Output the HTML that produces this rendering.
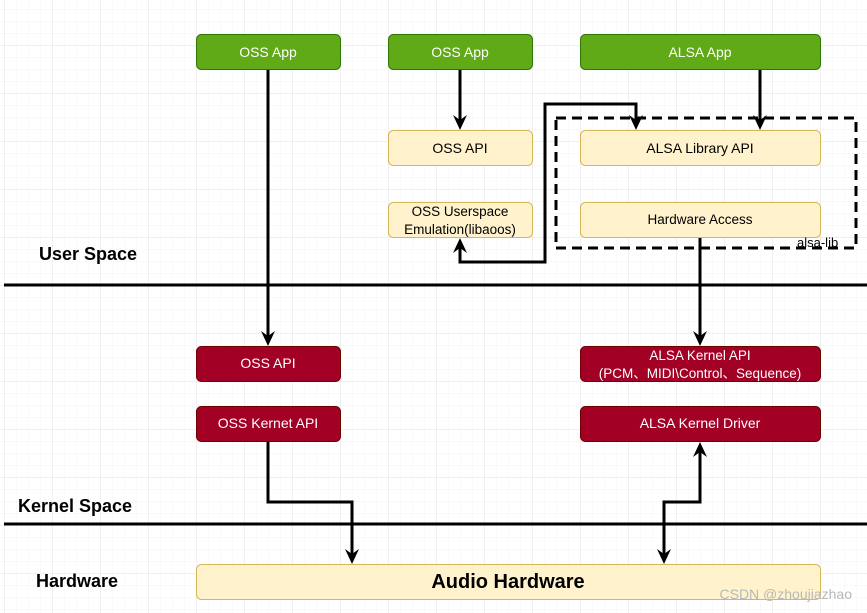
<!DOCTYPE html>
<html><head><meta charset="utf-8"><style>
html,body{margin:0;padding:0;background:#fff;}
svg{display:block;font-family:"Liberation Sans",Arial,"Noto Sans CJK SC",sans-serif;}
</style></head><body>
<svg width="867" height="613" viewBox="0 0 867 613" xmlns="http://www.w3.org/2000/svg">
<defs>
<pattern id="minor" x="4" y="-3" width="12" height="12" patternUnits="userSpaceOnUse"><path d="M0 0H12M0 0V12" fill="none" stroke="#f3f3f3" stroke-width="1"/></pattern>
<pattern id="major" x="4" y="-3" width="48" height="48" patternUnits="userSpaceOnUse"><path d="M0 0H48M0 0V48" fill="none" stroke="#e2e2e2" stroke-width="1"/></pattern>
<path id="dn" d="M0 0L-7 -15L0 -10L7 -15Z" fill="#000"/>
<path id="up" d="M0 0L-7 15L0 10L7 15Z" fill="#000"/>
</defs>
<rect width="867" height="613" fill="url(#minor)"/>
<rect width="867" height="613" fill="url(#major)"/>

<g font-size="14" text-anchor="middle">
<rect x="196.5" y="34.5" width="144" height="35" rx="5" fill="#60a917" stroke="#2d7600"/>
<text x="268" y="57" fill="#fff">OSS App</text>
<rect x="388.5" y="34.5" width="144" height="35" rx="5" fill="#60a917" stroke="#2d7600"/>
<text x="460" y="57" fill="#fff">OSS App</text>
<rect x="580.5" y="34.5" width="240" height="35" rx="5" fill="#60a917" stroke="#2d7600"/>
<text x="700" y="57" fill="#fff">ALSA App</text>

<rect x="388.5" y="130.5" width="144" height="35" rx="5" fill="#fff2cc" stroke="#d6b656"/>
<text x="460" y="153" fill="#000">OSS API</text>
<rect x="388.5" y="202.5" width="144" height="35" rx="5" fill="#fff2cc" stroke="#d6b656"/>
<text x="460" y="216" fill="#000" font-size="13.5">OSS Userspace</text>
<text x="460" y="234" fill="#000" font-size="13.5">Emulation(libaoos)</text>
<rect x="580.5" y="130.5" width="240" height="35" rx="5" fill="#fff2cc" stroke="#d6b656"/>
<text x="700" y="153" fill="#000">ALSA Library API</text>
<rect x="580.5" y="202.5" width="240" height="35" rx="5" fill="#fff2cc" stroke="#d6b656"/>
<text x="700" y="224" fill="#000" font-size="13.5">Hardware Access</text>

<rect x="196.5" y="346.5" width="144" height="35" rx="5" fill="#a20025" stroke="#6f0000"/>
<text x="268" y="368" fill="#fff">OSS API</text>
<rect x="196.5" y="406.5" width="144" height="35" rx="5" fill="#a20025" stroke="#6f0000"/>
<text x="268" y="428" fill="#fff">OSS Kernet API</text>
<rect x="580.5" y="346.5" width="240" height="35" rx="5" fill="#a20025" stroke="#6f0000"/>
<text x="700" y="360" fill="#fff" font-size="13.5">ALSA Kernel API</text>
<text x="700" y="378" fill="#fff" font-size="13.5">(PCM、MIDI\Control、Sequence)</text>
<rect x="580.5" y="406.5" width="240" height="35" rx="5" fill="#a20025" stroke="#6f0000"/>
<text x="700" y="428" fill="#fff">ALSA Kernel Driver</text>

<rect x="196.5" y="564.5" width="624" height="35" rx="5" fill="#fff2cc" stroke="#d6b656"/>
<text x="508" y="588" fill="#000" font-size="20" font-weight="bold">Audio Hardware</text>
</g>

<rect x="556" y="118" width="300" height="130" fill="none" stroke="#000" stroke-width="3" stroke-dasharray="10,6"/>
<text x="797" y="247" font-size="13" fill="#000">alsa-lib</text>

<g stroke="#000" stroke-width="3" fill="none">
<line x1="4" y1="285" x2="867" y2="285"/>
<line x1="4" y1="524" x2="867" y2="524"/>
<path d="M268 70V336"/>
<path d="M460 70V120"/>
<path d="M760 70V120"/>
<path d="M460 248V262H545V104H636V120"/>
<path d="M700 238V336"/>
<path d="M268 442V502H352V554"/>
<path d="M700 452V502H664V554"/>
</g>
<use href="#dn" x="268" y="346"/>
<use href="#dn" x="460" y="130"/>
<use href="#dn" x="760" y="130"/>
<use href="#dn" x="636" y="130"/>
<use href="#up" x="460" y="238"/>
<use href="#dn" x="700" y="346"/>
<use href="#dn" x="352" y="564"/>
<use href="#dn" x="664" y="564"/>
<use href="#up" x="700" y="442"/>

<g font-size="18" font-weight="bold" fill="#000">
<text x="39" y="260">User Space</text>
<text x="18" y="512">Kernel Space</text>
<text x="36" y="587">Hardware</text>
</g>
<text x="852" y="599" font-size="14" fill="#b8b8b8" text-anchor="end">CSDN @zhoujiazhao</text>
</svg>
</body></html>
